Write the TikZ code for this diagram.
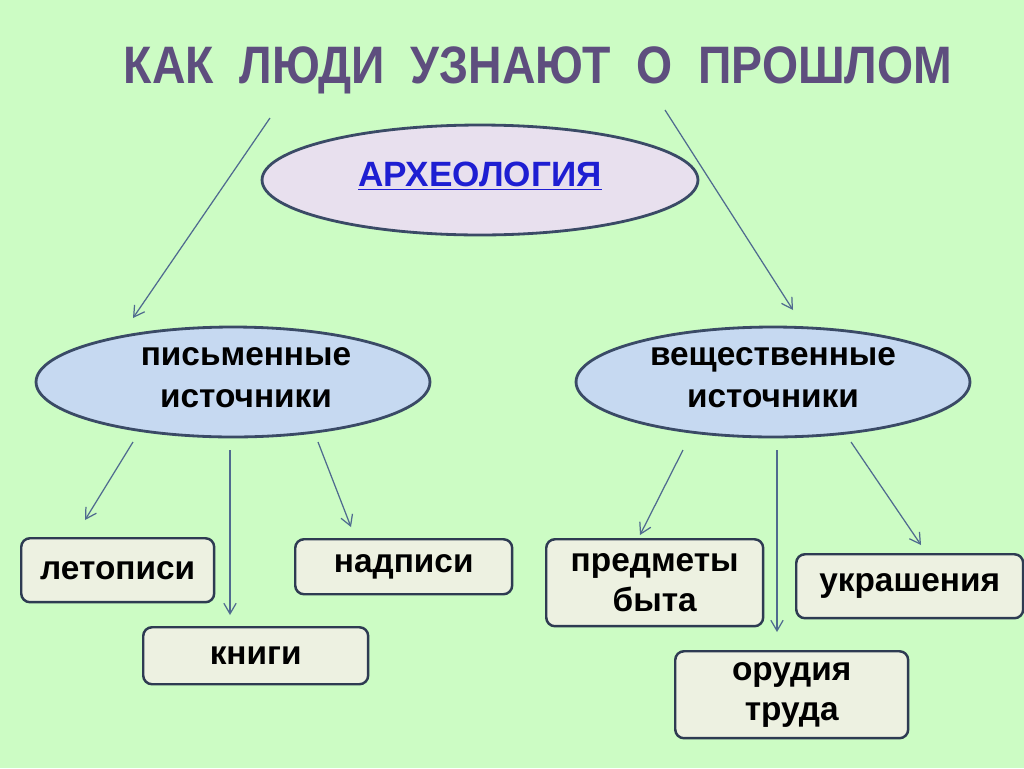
\documentclass[tikz,border=0pt]{standalone}
\usepackage{fontspec}
\setmainfont{Liberation Sans}
\usetikzlibrary{arrows.meta,shapes.geometric}
\definecolor{bg}{HTML}{CCFCC4}
\definecolor{ttl}{HTML}{5E4E7E}
\definecolor{lav}{HTML}{E8E0EE}
\definecolor{blu}{HTML}{C6D9F1}
\definecolor{edg}{HTML}{3A4A66}
\definecolor{boxf}{HTML}{EDF1E1}
\definecolor{arr}{HTML}{4F6A8F}
\begin{document}
\begin{tikzpicture}[x=0.02cm,y=-0.02cm,
  ell/.style={ellipse,draw=edg,line width=1.6pt},
  bx/.style={draw=edg!80!black,line width=1.4pt,rounded corners=5pt,fill=boxf,anchor=north west,align=center,font=\fontsize{19}{23}\selectfont\bfseries},
  ar/.style={draw=arr,line width=0.7pt,-{Straight Barb[length=6pt,width=7pt]}},
  lbl/.style={font=\fontsize{19}{24}\selectfont\bfseries,align=center}]
\fill[bg] (0,0) rectangle (1024,768);
\useasboundingbox (0,0) rectangle (1024,768);
\node[font=\fontsize{30}{34}\selectfont\bfseries,text=ttl,xscale=0.88] (t) at (538,70) {КАК\ \ ЛЮДИ\ \ УЗНАЮТ\ \ О\ \ ПРОШЛОМ};
\node[ell,fill=lav,minimum width=8.72cm,minimum height=2.2cm] (a) at (480,180) {};
\node[font=\fontsize{20}{24}\selectfont\bfseries,text={rgb,255:red,30;green,30;blue,210}] (at) at (480,176) {\underline{АРХЕОЛОГИЯ}};
\node[ell,fill=blu,minimum width=7.88cm,minimum height=2.2cm] (l) at (233,382) {};
\node[lbl] (lt) at (246,378) {письменные\\источники};
\node[ell,fill=blu,minimum width=7.88cm,minimum height=2.2cm] (r) at (773,382) {};
\node[lbl] (rt) at (773,378) {вещественные\\источники};
\node[bx,minimum width=3.86cm,minimum height=1.28cm] (b1) at (20,537) {летописи};
\node[bx,minimum width=4.5cm,minimum height=1.14cm] (b2) at (142,626) {книги};
\node[bx,minimum width=4.34cm,minimum height=1.1cm] (b3) at (294,538) {надписи};
\node[bx,minimum width=4.34cm,minimum height=1.74cm] (b4) at (545,538) {предметы\\быта};
\node[bx,minimum width=4.54cm,minimum height=1.28cm] (b5) at (795,553) {украшения};
\node[bx,minimum width=4.66cm,minimum height=1.74cm] (b6) at (674,650) {орудия\\труда};
\coordinate (s1) at (270,118); \coordinate (e1) at (133,318);
\coordinate (s2) at (665,110); \coordinate (e2) at (793,310);
\coordinate (s3) at (133,442); \coordinate (e3) at (85,520);
\coordinate (s4) at (230,450); \coordinate (e4) at (230,615);
\coordinate (s5) at (318,442); \coordinate (e5) at (351,527);
\coordinate (s6) at (683,450); \coordinate (e6) at (640,535);
\coordinate (s7) at (777,450); \coordinate (e7) at (777,632);
\coordinate (s8) at (851,442); \coordinate (e8) at (921,545);
\foreach \i in {1,...,8} \draw[ar] (s\i) -- (e\i);
\end{tikzpicture}
\end{document}
